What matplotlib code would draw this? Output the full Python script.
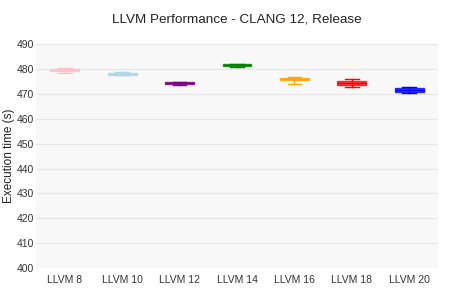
import matplotlib
matplotlib.use("Agg")
import matplotlib.pyplot as plt

# box statistics (seconds)
labels = ["LLVM 8", "LLVM 10", "LLVM 12", "LLVM 14", "LLVM 16", "LLVM 18", "LLVM 20"]
whislo = [478.2, 477.4, 473.6, 480.9, 474.1, 472.9, 470.5]
q1 = [479.3, 477.7, 473.8, 481.1, 475.4, 473.5, 470.8]
med = [479.7, 478.0, 474.2, 481.5, 476.0, 474.3, 471.5]
q3 = [480.1, 478.3, 474.7, 481.8, 476.5, 475.2, 472.3]
whishi = [480.4, 478.6, 474.9, 482.0, 476.8, 476.1, 472.6]
colors = ["pink", "lightblue", "purple", "green", "orange", "red", "blue"]

plt.rcParams["font.family"] = ["Liberation Sans", "DejaVu Sans"]

fig = plt.figure(figsize=(4.74, 2.92), dpi=100)
ax = fig.add_axes([0.076, 0.082, 0.848, 0.767])
ax.set_facecolor("#f8f8f8")

for i in range(len(labels)):
    stats = [{"whislo": whislo[i], "q1": q1[i], "med": med[i], "q3": q3[i],
              "whishi": whishi[i], "label": labels[i]}]
    c = colors[i]
    bp = ax.bxp(stats, positions=[i], widths=0.5, patch_artist=True,
                showfliers=False, manage_ticks=False,
                boxprops=dict(facecolor=c, edgecolor=c, alpha=0.75, linewidth=1),
                medianprops=dict(color=c, linewidth=1),
                whiskerprops=dict(color=c, linewidth=1),
                capprops=dict(color=c, linewidth=1))
    for cap in bp["caps"]:
        x = cap.get_xdata()
        m = (x[0] + x[1]) / 2
        cap.set_xdata([m - 0.12, m + 0.12])

ax.set_xticks(range(len(labels)))
ax.set_xticklabels(labels)
ax.set_xlim(-0.5, len(labels) - 0.5)
ax.set_ylim(400, 490)
ax.set_yticks(range(400, 491, 10))
ax.grid(axis="y", color="#e6e6e6", linewidth=0.8)
ax.set_axisbelow(True)
for s in ax.spines.values():
    s.set_visible(False)
ax.tick_params(axis="both", length=0, labelsize=7.5, colors="#333333")
ax.tick_params(axis="y", pad=1.5)
ax.tick_params(axis="x", pad=5)
ax.set_ylabel("Execution time (s)", fontsize=8.5, color="#222222")
ax.yaxis.set_label_coords(-0.053, 0.5)
fig.suptitle("LLVM Performance - CLANG 12, Release", fontsize=9.7, y=0.955, color="#222222")

fig.savefig("out.png", dpi=100)
